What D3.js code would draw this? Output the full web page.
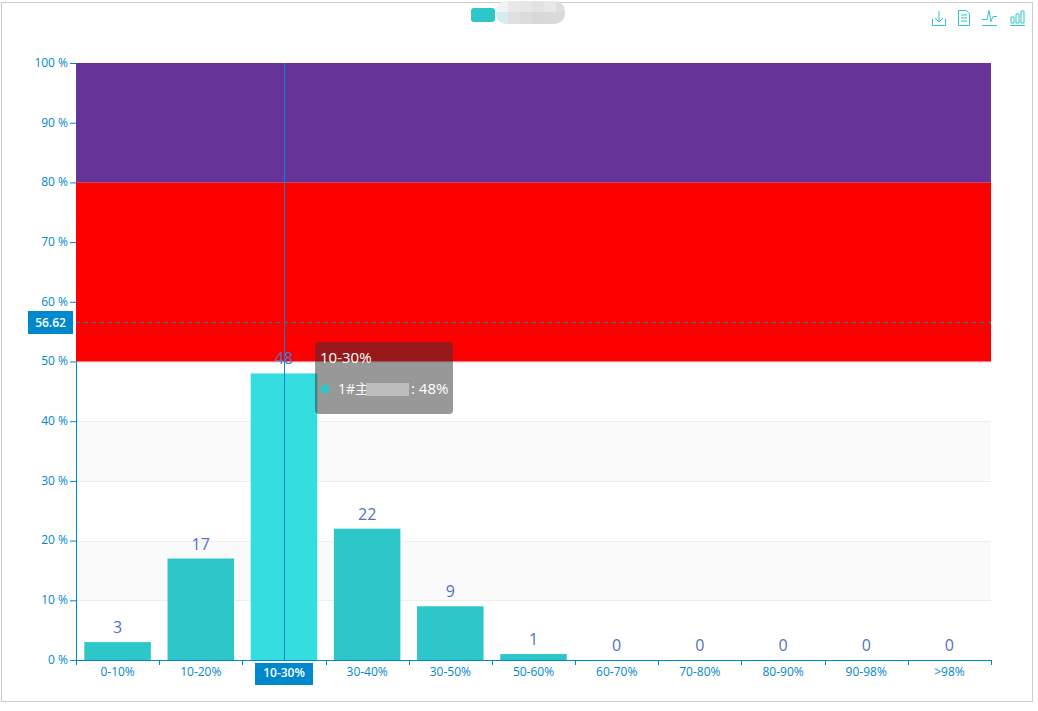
<!DOCTYPE html>
<meta charset="utf-8" />
<style>
    html, body { margin: 0; padding: 0; background: #fff; overflow: hidden; }
    svg { display: block; font-family: "Open Sans", "Noto Sans CJK SC", sans-serif; }
    .axis text { fill: #0088cc; font-size: 12px; font-family: "Open Sans", sans-serif; }
    .axis path, .axis line { stroke: #0088cc; }
</style>
<script src="https://d3js.org/d3.v7.min.js"></script>
<body>
<svg id="chart" width="1038" height="711"></svg>
</body>
<script>
//Chart values
const categories = ["0-10%","10-20%","10-30%","30-40%","30-50%","50-60%","60-70%","70-80%","80-90%","90-98%",">98%"];
const values = [3, 17, 48, 22, 9, 1, 0, 0, 0, 0, 0];
const yTicks = [0, 10, 20, 30, 40, 50, 60, 70, 80, 90, 100];
const zones = [[50, 80, "#ff0000"], [80, 100, "#663399"]];
const hoverCategory = "10-30%";
const hoverValue = 56.62;
const tooltipName = "1#主";
const blurCells = ["#eef4f4","#e8e8e8","#e6e6e6","#e2e2e2","#e8e8e8","#dedede"];
const blurCellsLow = ["#d4eeee","#e0e0e0","#dcdcdc","#d8d8d8","#dadada","#dadada"];

const svg = d3.select("#chart");
const plotLeft = 76, plotRight = 991, plotTop = 63, plotBottom = 660;

const x = d3.scaleBand().domain(categories).range([plotLeft, plotRight]).paddingInner(0.2).paddingOuter(0.1);
const xEdge = d3.scaleBand().domain(categories).range([plotLeft, plotRight]);
const y = d3.scaleLinear().domain([0, 100]).range([plotBottom, plotTop]);

//Outer border
svg.append("rect").attr("x", 1.5).attr("y", 2.5).attr("width", 1031).attr("height", 699)
    .attr("fill", "none").attr("stroke", "#ccc");

//Alternating split areas
svg.selectAll(".band").data(yTicks.slice(0, -1)).enter().append("rect")
    .attr("x", plotLeft).attr("width", plotRight - plotLeft)
    .attr("y", d => y(d + 10)).attr("height", d => y(d) - y(d + 10))
    .attr("fill", (d, i) => i % 2 == 1 ? "#fafafa" : "#fff");

svg.selectAll(".split").data(yTicks.slice(1)).enter().append("line")
    .attr("x1", plotLeft).attr("x2", plotRight)
    .attr("y1", d => Math.round(y(d)) + 0.5).attr("y2", d => Math.round(y(d)) + 0.5)
    .attr("stroke", "#eee");

//Axes (d3 adds its own half pixel offset)
const yAxis = svg.append("g").attr("class", "axis")
    .attr("transform", `translate(${plotLeft},0)`)
    .call(d3.axisLeft(y).tickValues(yTicks).tickSize(6).tickPadding(2).tickFormat(d => d + " %").tickSizeOuter(0));
yAxis.selectAll(".tick text").attr("dy", "0.28em");

const xAxis = svg.append("g").attr("class", "axis")
    .attr("transform", `translate(0,${plotBottom})`)
    .call(d3.axisBottom(xEdge).tickSize(0).tickPadding(7));
xAxis.selectAll(".tick")
    .filter(d => d == hoverCategory)
    .select("text").attr("visibility", "hidden");

svg.append("g").selectAll("line").data(categories.map(d => xEdge(d)).concat([plotRight])).enter().append("line")
    .attr("x1", d => Math.round(d) + 0.5).attr("x2", d => Math.round(d) + 0.5)
    .attr("y1", plotBottom).attr("y2", plotBottom + 5)
    .attr("stroke", "#0088cc");

//Mark areas
svg.selectAll(".zone").data(zones).enter().append("rect")
    .attr("x", plotLeft).attr("width", plotRight - plotLeft)
    .attr("y", d => y(d[1])).attr("height", d => y(d[0]) - y(d[1]))
    .attr("fill", d => d[2]);

//Bars
svg.selectAll(".bar").data(values).enter().append("rect")
    .attr("x", (d, i) => x(categories[i]))
    .attr("width", x.bandwidth())
    .attr("y", d => y(d))
    .attr("height", d => plotBottom - y(d))
    .attr("fill", (d, i) => categories[i] == hoverCategory ? "#33dde0" : "#2ec7c9");

svg.selectAll(".barLabel").data(values).enter().append("text")
    .attr("x", (d, i) => x(categories[i]) + x.bandwidth() / 2)
    .attr("y", d => y(d) - 9)
    .attr("text-anchor", "middle")
    .attr("font-size", 16)
    .attr("fill", "#5470c6")
    .text(d => d);

//Axis pointers
const pointerX = Math.round(xEdge(hoverCategory) + xEdge.bandwidth() / 2) + 0.5;
const pointerY = Math.round(y(hoverValue)) + 0.5;
svg.append("line").attr("x1", pointerX).attr("x2", pointerX).attr("y1", plotTop).attr("y2", plotBottom)
    .attr("stroke", "#0088cc");
svg.append("line").attr("x1", plotLeft).attr("x2", plotRight).attr("y1", pointerY).attr("y2", pointerY)
    .attr("stroke", "#0088cc").attr("stroke-dasharray", "4 4");

svg.append("rect").attr("x", 28).attr("y", pointerY - 11.5).attr("width", 45).attr("height", 23).attr("fill", "#0088cc");
svg.append("text").attr("x", 50.5).attr("y", pointerY + 4).attr("text-anchor", "middle")
    .attr("font-size", 12).attr("font-weight", 600).attr("fill", "#fff").text(hoverValue);

svg.append("rect").attr("x", pointerX - 29.5).attr("y", 663).attr("width", 58).attr("height", 22).attr("fill", "#0088cc");
svg.append("text").attr("x", pointerX - 0.5).attr("y", 677).attr("text-anchor", "middle")
    .attr("font-size", 12).attr("font-weight", 600).attr("fill", "#fff").text(hoverCategory);

//Tooltip
const tip = svg.append("g").attr("transform", "translate(315,342)");
tip.append("rect").attr("width", 138).attr("height", 72).attr("rx", 4).attr("fill", "rgba(50,50,50,0.5)");
tip.append("text").attr("x", 5).attr("y", 21).attr("font-size", 15).attr("fill", "#fff").text(hoverCategory);
tip.append("circle").attr("cx", 10).attr("cy", 47).attr("r", 4.5).attr("fill", "#2ec7c9");
tip.append("text").attr("x", 23).attr("y", 52).attr("font-size", 14).attr("fill", "#fff").text(tooltipName);
tip.append("rect").attr("x", 51).attr("y", 41).attr("width", 43).attr("height", 13).attr("fill", "#bdbdbd");
tip.append("text").attr("x", 96).attr("y", 52).attr("font-size", 15).attr("fill", "#fff").text(": " + values[categories.indexOf(hoverCategory)] + "%");

//Legend with blurred name
svg.append("rect").attr("x", 471).attr("y", 8).attr("width", 24).attr("height", 14).attr("rx", 3).attr("fill", "#2ec7c9");
const clip = svg.append("clipPath").attr("id", "blurClip");
clip.append("rect").attr("x", 496).attr("y", 1).attr("width", 69).attr("height", 23).attr("rx", 10);
const blur = svg.append("g").attr("clip-path", "url(#blurClip)");
[blurCells, blurCellsLow].forEach((row, r) => {
    blur.selectAll(".c" + r).data(row).enter().append("rect")
        .attr("class", "c" + r)
        .attr("x", (d, i) => 496 + i * 12).attr("y", 1 + r * 11)
        .attr("width", 12).attr("height", 12)
        .attr("fill", d => d);
});

//Toolbox icons
const icons = svg.append("g").attr("fill", "none").attr("stroke", "#2ec7c9").attr("stroke-width", 1);
icons.append("path").attr("d", "M932.5 19v6.5h13V19M939 11v11M935 18l4 4 4-4");
icons.append("path").attr("d", "M958.5 10.5h8l3 3v12h-11zM961 15h6M961 18h6M961 21h6");
icons.append("path").attr("d", "M982 25.5h15M982 19.5h5l2-9 2 11 2-5h4");
icons.append("path").attr("d", "M1010 25.5h15M1011 17h3v6h-3zM1016 14h3v9h-3zM1021 11h3v12h-3z");
</script>
